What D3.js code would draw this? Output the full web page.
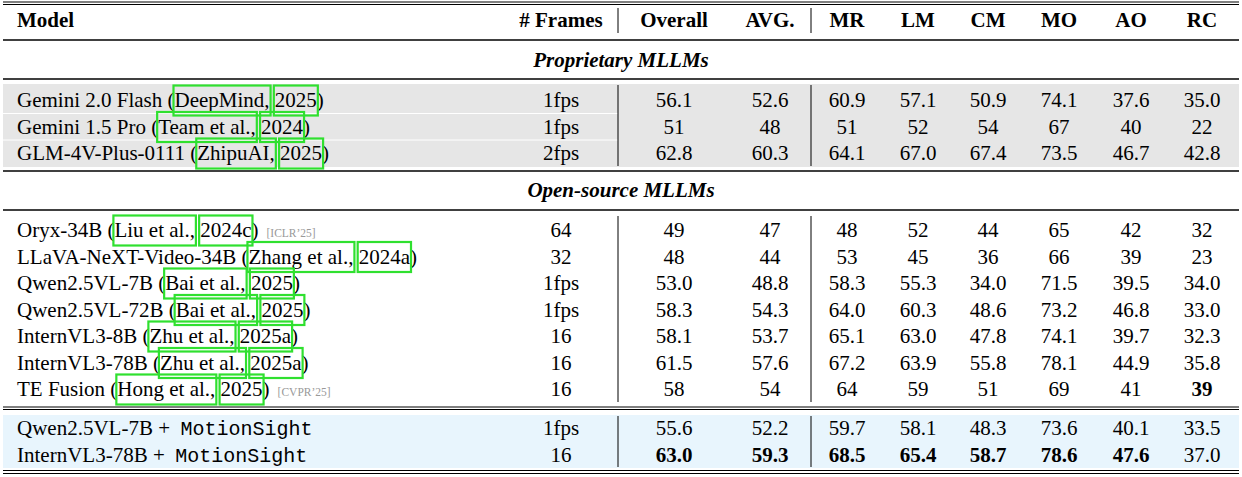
<!DOCTYPE html>
<html><head><meta charset="utf-8">
<script src="https://cdn.jsdelivr.net/npm/d3@7"></script>
<style>body{margin:0;background:#fff} svg text{white-space:pre;font-family:"Liberation Serif","Times New Roman",serif} svg text.mono{font-family:"Liberation Mono","DejaVu Sans Mono",monospace}</style>
</head><body>
<svg id="c" width="1242" height="477"></svg>
<script>
const columns = ["Model","# Frames","Overall","AVG.","MR","LM","CM","MO","AO","RC"];
const models = ["Gemini 2.0 Flash","Gemini 1.5 Pro","GLM-4V-Plus-0111",
 "Oryx-34B","LLaVA-NeXT-Video-34B","Qwen2.5VL-7B","Qwen2.5VL-72B","InternVL3-8B","InternVL3-78B","TE Fusion",
 "Qwen2.5VL-7B","InternVL3-78B"];
const citeAuthor = ["DeepMind,","Team et al.,","ZhipuAI,","Liu et al.,","Zhang et al.,","Bai et al.,","Bai et al.,","Zhu et al.,","Zhu et al.,","Hong et al.,",null,null];
const citeYear = ["2025","2024","2025","2024c","2024a","2025","2025","2025a","2025a","2025",null,null];
const venue = [null,null,null,"[ICLR’25]",null,null,null,null,null,"[CVPR’25]",null,null];
const frames = ["1fps","1fps","2fps","64","32","1fps","1fps","16","16","16","1fps","16"];
const overall = ["56.1","51","62.8","49","48","53.0","58.3","58.1","61.5","58","55.6","63.0"];
const avg = ["52.6","48","60.3","47","44","48.8","54.3","53.7","57.6","54","52.2","59.3"];
const mr = ["60.9","51","64.1","48","53","58.3","64.0","65.1","67.2","64","59.7","68.5"];
const lm = ["57.1","52","67.0","52","45","55.3","60.3","63.0","63.9","59","58.1","65.4"];
const cm = ["50.9","54","67.4","44","36","34.0","48.6","47.8","55.8","51","48.3","58.7"];
const mo = ["74.1","67","73.5","65","66","71.5","73.2","74.1","78.1","69","73.6","78.6"];
const ao = ["37.6","40","46.7","42","39","39.5","46.8","39.7","44.9","41","40.1","47.6"];
const rc = ["35.0","22","42.8","32","23","34.0","33.0","32.3","35.8","39","33.5","37.0"];
const boldCells = [[9,8],[11,1],[11,2],[11,3],[11,4],[11,5],[11,6],[11,7]];
const sections = ["Proprietary MLLMs","Open-source MLLMs"];

const svg = d3.select("#c");
const FS = 21;
const colX = d3.scaleOrdinal().domain(columns.slice(1)).range([561,674,770,847,918,988,1059,1131,1202]);
const rowY = [100,126.5,153,230,256.5,283,309.5,336,362.5,389,428,455];
const metricCols = [frames,overall,avg,mr,lm,cm,mo,ao,rc];

svg.append("rect").attr("x",3).attr("y",84).attr("width",1236).attr("height",83).attr("fill","#e6e6e6");
svg.append("rect").attr("x",3).attr("y",415).attr("width",1236).attr("height",53).attr("fill","#e8f5fd");
[113.5,140].forEach(y=>svg.append("line").attr("x1",3).attr("x2",618).attr("y1",y).attr("y2",y).attr("stroke","#fff").attr("stroke-width",1));

function hl(y,w){svg.append("line").attr("x1",3).attr("x2",1239).attr("y1",y).attr("y2",y).attr("stroke","#000").attr("stroke-width",w);}
hl(2,1.2);hl(4.5,1.2);hl(40,1.3);hl(79,1.3);hl(171,1.3);hl(210,1.3);hl(407,1.2);hl(409.5,1.2);hl(470.5,1.2);hl(473.5,1.2);

[[8,33],[85,166],[216,402],[416,467]].forEach(([a,b])=>{
  [618,811].forEach(x=>svg.append("line").attr("x1",x).attr("x2",x).attr("y1",a).attr("y2",b).attr("stroke","#000").attr("stroke-width",1));
});

svg.append("text").attr("x",17).attr("y",27).attr("font-size",FS).attr("font-weight","bold").text(columns[0]);
columns.slice(1).forEach(c=>svg.append("text").attr("x",colX(c)).attr("y",27).attr("text-anchor","middle")
  .attr("font-size",FS).attr("font-weight","bold").text(c));

[[sections[0],67],[sections[1],197]].forEach(([t,y])=>svg.append("text").attr("x",621).attr("y",y).attr("text-anchor","middle")
  .attr("font-size",FS).attr("font-weight","bold").attr("font-style","italic").text(t));

models.forEach((m,i)=>{
  const y = rowY[i]+7;
  let x = 17;
  function put(t,opts={}){
    const el = svg.append("text").attr("x",x).attr("y",y).attr("class",opts.cls||null)
      .attr("font-size",opts.fs||FS).attr("fill",opts.fill||"#000").text(t);
    const w = el.node().getComputedTextLength();
    const x0 = x; x += w; return [x0,w];
  }
  if(citeAuthor[i]){
    put(m+" (");
    const [ax,aw] = put(citeAuthor[i]);
    x += FS*0.25;
    const [yx,yw] = put(citeYear[i]);
    put(")");
    [[ax,aw],[yx,yw]].forEach(([bx,bw])=>svg.append("rect").attr("x",bx-1).attr("y",rowY[i]-14.5).attr("width",bw+2).attr("height",30)
      .attr("fill","none").attr("stroke","#2fe02f").attr("stroke-width",2.2));
    if(venue[i]){x+=8; put(venue[i],{fs:11.5,fill:"#999"});}
  } else {
    put(m+" + ");
    x += FS*0.25;
    put("MotionSight",{cls:"mono",fs:20});
  }
});

metricCols.forEach((arr,j)=>{
  arr.forEach((v,i)=>{
    const bold = boldCells.some(([r,c])=>r===i&&c===j);
    svg.append("text").attr("x",colX(columns[j+1])).attr("y",rowY[i]+7).attr("text-anchor","middle")
      .attr("font-size",FS).attr("font-weight",bold?"bold":"normal").text(v);
  });
});
</script>
</body></html>
